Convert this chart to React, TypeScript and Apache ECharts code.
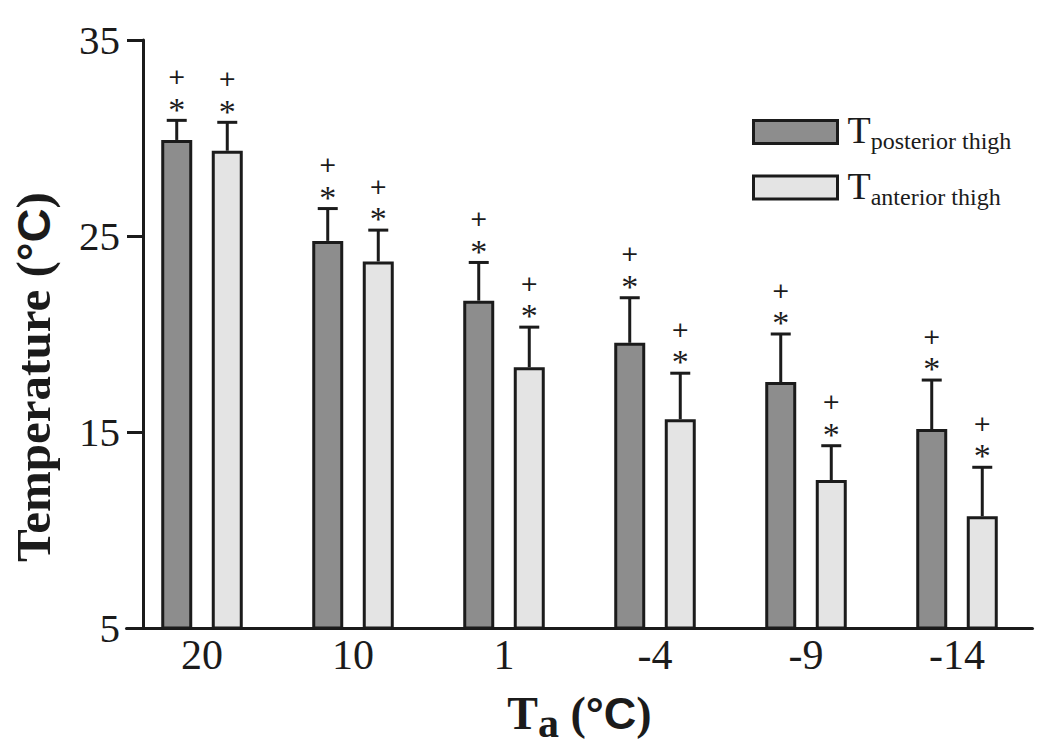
import React, { useEffect, useRef } from "react";
import * as echarts from "echarts";

// ---- data ----
const categories = ["20", "10", "1", "-4", "-9", "-14"];
const posteriorMean = [29.9, 24.75, 21.7, 19.55, 17.55, 15.15];
const posteriorSD = [1.0, 1.65, 1.95, 2.3, 2.45, 2.5];
const anteriorMean = [29.35, 23.7, 18.3, 15.65, 12.55, 10.7];
const anteriorSD = [1.45, 1.6, 2.05, 2.35, 1.75, 2.5];
const posteriorMarks = ["*", "*", "*", "*", "*", "*"];
const posteriorMarks2 = ["+", "+", "+", "+", "+", "+"];
const anteriorMarks = ["*", "*", "*", "*", "*", "*"];
const anteriorMarks2 = ["+", "+", "+", "+", "+", "+"];
const yTicks = { min: 5, max: 35, interval: 10 };

const INK = "#1b1b1b";
const DARK = "#8d8d8d";
const LIGHT = "#e4e4e4";
const SERIF = "'Liberation Serif', 'Times New Roman', serif";
const SANS = "'Liberation Sans', Arial, sans-serif";
const DEJAVU = "'DejaVu Sans', sans-serif";

const BAR_W = 31;
const BAR_GAP = 0.63;
const SHIFT = (BAR_W + BAR_W * BAR_GAP) / 2;

function errorSeries(name: string, means: number[], sds: number[], m1: string[], m2: string[], sign: number) {
  const data = means.map((m, i) => [i, m, m + sds[i], i]);
  return {
    type: "custom",
    name: name + "-err",
    silent: true,
    z: 5,
    encode: { x: 0, y: [1, 2] },
    data,
    renderItem: (params: any, api: any) => {
      const c = api.value(0);
      const m = api.value(1);
      const t = api.value(2);
      const idx = api.value(3);
      const p0 = api.coord([c, m]);
      const p1 = api.coord([c, t]);
      const x = p0[0] + sign * SHIFT;
      const st = { stroke: INK, lineWidth: 3 };
      return {
        type: "group",
        children: [
          { type: "line", shape: { x1: x, y1: p0[1], x2: x, y2: p1[1] }, style: st },
          { type: "line", shape: { x1: x - 10, y1: p1[1], x2: x + 10, y2: p1[1] }, style: st },
          {
            type: "text",
            x: x,
            y: p1[1] - 11.3,
            style: { text: m1[idx], fill: INK, font: "34px " + SERIF, textAlign: "center", textVerticalAlign: "middle" },
          },
          {
            type: "text",
            x: x,
            y: p1[1] - 44,
            style: { text: m2[idx], fill: INK, font: "22px " + DEJAVU, textAlign: "center", textVerticalAlign: "middle" },
          },
        ],
      };
    },
  };
}

export default function App() {
  const ref = useRef<HTMLDivElement>(null);
  useEffect(() => {
    if (!ref.current) return;
    const chart = echarts.init(ref.current, null, { renderer: "svg" });
    const option: any = {
      animation: false,
      backgroundColor: "#ffffff",
      grid: { left: 126.5, top: 40, width: 906, height: 588, containLabel: false },
      legend: {
        orient: "vertical",
        left: 752,
        top: 111,
        padding: 0,
        itemWidth: 84,
        itemHeight: 23,
        itemGap: 13.5,
        icon: "rect",
        selectedMode: false,
        itemStyle: { borderColor: INK, borderWidth: 3 },
        formatter: (name: string) => "{t|T}{s|" + name + "}",
        textStyle: {
          color: INK,
          fontFamily: SERIF,
          rich: {
            t: { fontSize: 38, fontFamily: SERIF, color: INK, verticalAlign: "bottom", padding: [0, 0, 4, 5] },
            s: { fontSize: 24, fontFamily: SERIF, color: INK, verticalAlign: "bottom" },
          },
        },
        data: ["posterior thigh", "anterior thigh"],
      },
      xAxis: {
        type: "category",
        data: categories,
        axisTick: { show: false },
        axisLine: { lineStyle: { color: INK, width: 3 } },
        axisLabel: { color: INK, fontFamily: SERIF, fontSize: 42, margin: 6 },
        name: "{t|T}{a|a}{p| (}{c|°C}{p|)}",
        nameLocation: "middle",
        nameGap: 62,
        nameTextStyle: {
          rich: {
            t: { fontSize: 46, fontFamily: SERIF, fontWeight: "bold", color: INK, verticalAlign: "bottom", padding: [0, 0, 8, 0] },
            a: { fontSize: 42, fontFamily: SERIF, fontWeight: "bold", color: INK, verticalAlign: "bottom" },
            p: { fontSize: 46, fontFamily: SERIF, fontWeight: "bold", color: INK, verticalAlign: "bottom", padding: [0, 0, 8, 0] },
            c: { fontSize: 45, fontFamily: SANS, fontWeight: "bold", color: INK, verticalAlign: "bottom", padding: [0, 0, 8, 0] },
          },
        },
      },
      yAxis: {
        type: "value",
        min: yTicks.min,
        max: yTicks.max,
        interval: yTicks.interval,
        offset: -16.5,
        splitLine: { show: false },
        axisLine: { show: true, lineStyle: { color: INK, width: 3 } },
        axisTick: { show: true, length: 16, lineStyle: { color: INK, width: 3 } },
        axisLabel: { color: INK, fontFamily: SERIF, fontSize: 41, margin: 23 },
      },
      graphic: [
        {
          type: "text",
          x: 33,
          y: 377,
          rotation: Math.PI / 2,
          style: {
            text: "{a|Temperature (}{c|°C}{a|)}",
            textAlign: "center",
            textVerticalAlign: "middle",
            rich: {
              a: { fontSize: 49, fontFamily: SERIF, fontWeight: "bold", fill: INK },
              c: { fontSize: 47, fontFamily: SANS, fontWeight: "bold", fill: INK },
            },
          },
        },
      ],
      series: [
        {
          type: "bar",
          name: "posterior thigh",
          data: posteriorMean,
          barWidth: BAR_W,
          barGap: BAR_GAP * 100 + "%",
          itemStyle: { color: DARK, borderColor: INK, borderWidth: 3 },
        },
        {
          type: "bar",
          name: "anterior thigh",
          data: anteriorMean,
          barWidth: BAR_W,
          barGap: BAR_GAP * 100 + "%",
          itemStyle: { color: LIGHT, borderColor: INK, borderWidth: 3 },
        },
        errorSeries("posterior thigh", posteriorMean, posteriorSD, posteriorMarks, posteriorMarks2, -1),
        errorSeries("anterior thigh", anteriorMean, anteriorSD, anteriorMarks, anteriorMarks2, 1),
      ],
    };
    chart.setOption(option);
    return () => chart.dispose();
  }, []);
  return (
    <div
      ref={ref}
      style={{ position: "fixed", left: 0, top: 0, width: 1040, height: 750, background: "#fff" }}
    />
  );
}
